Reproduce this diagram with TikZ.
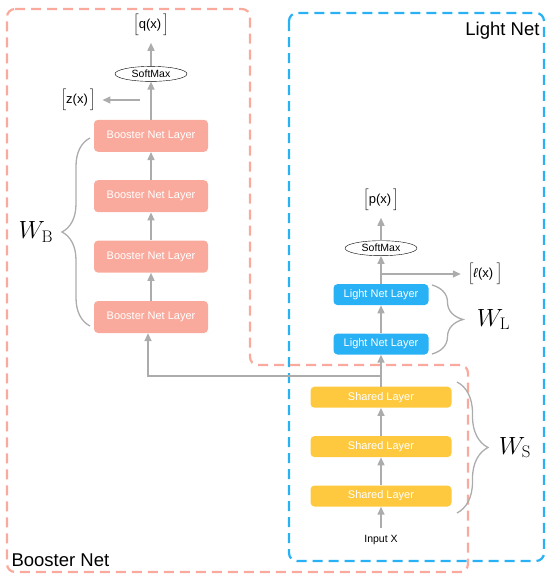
\documentclass[tikz,border=0pt]{standalone}
\usepackage{amsmath}
\usepackage{fontspec}
\setsansfont{Liberation Sans}
\usepackage{tikz}
\usetikzlibrary{positioning, arrows.meta, shapes.geometric, decorations.pathreplacing}
\definecolor{boostpink}{RGB}{250,170,156}
\definecolor{lightblue}{RGB}{41,177,245}
\definecolor{sharedyellow}{RGB}{254,201,62}
\definecolor{flowgray}{RGB}{172,172,172}
\tikzset{x=1pt, y=-1pt, % One unit is one pixel of the reference, y grows downwards
node distance=28pt, % Gap between two stacked layers
layer/.style={ % Common look of all layer boxes
rounded corners=4pt, text=white, inner sep=0pt,
font=\sffamily\fontsize{11}{13}\selectfont},
boostlayer/.style={layer, fill=boostpink, minimum width=114pt, minimum height=32pt},
lightlayer/.style={layer, fill=lightblue, minimum width=95pt, minimum height=21pt},
sharedlayer/.style={layer, fill=sharedyellow, minimum width=141pt, minimum height=21pt},
softmax/.style={ellipse, draw, thin, fill=white, inner sep=0pt,
minimum width=72pt, minimum height=15pt, font=\sffamily\fontsize{10.5}{12}\selectfont},
outvec/.style={inner sep=0pt, outer sep=7pt, font=\sffamily\fontsize{13}{15}\selectfont},
flow/.style={draw=flowgray, line width=1.5pt, -{Triangle[length=8pt,width=7pt]}}, % Gray arrows
wbrace/.style={draw=flowgray, line width=1.3pt, decorate, decoration={brace, amplitude=#1}},
wlabel/.style={font=\fontsize{24}{28}\selectfont},
netbox/.style={dash pattern=on 10pt off 6pt, line width=2.2pt, rounded corners=8pt}}

\begin{document}
\begin{tikzpicture}

    \useasboundingbox (0,0) rectangle (557,584);

    % the two networks
    \draw[netbox, draw=lightblue] (289,13) rectangle (544,561);
    \draw[netbox, draw=boostpink] (7,9) -- (250,9) -- (250,365) -- (468,365) -- (468,572) -- (7,572) -- cycle;
    \node[anchor=base east, font=\sffamily\fontsize{18.5}{22}\selectfont] (lighttitle) at (543,35) {Light Net};
    \node[anchor=base west, font=\sffamily\fontsize{18.5}{22}\selectfont] (boosttitle) at (8,566) {Booster Net};

    % shared part
    \node[font=\sffamily\fontsize{10.5}{12}\selectfont, outer sep=4pt] (in) at (381,540) {Input X};
    \node[sharedlayer] (s3) at (381,496) {Shared Layer};
    \node[sharedlayer, above=of s3] (s2) {Shared Layer};
    \node[sharedlayer, above=of s2] (s1) {Shared Layer};

    % light net
    \node[lightlayer] (l2) at (381,344) {Light Net Layer};
    \node[lightlayer, above=of l2] (l1) {Light Net Layer};
    \node[softmax, above=of l1] (lsm) {SoftMax};
    \node[outvec] (px) at (381,200) {$\Bigl[$p(x)$\,\Bigr]$};
    \node[outvec] (lx) at (485,274) {$\Bigl[$\textit{ℓ}(x)$\;\Bigr]$};

    % booster net
    \node[boostlayer] (b4) at (151,317) {Booster Net Layer};
    \node[boostlayer, above=of b4] (b3) {Booster Net Layer};
    \node[boostlayer, above=of b3] (b2) {Booster Net Layer};
    \node[boostlayer, above=of b2] (b1) {Booster Net Layer};
    \node[softmax, above=38pt of b1] (bsm) {SoftMax};
    \node[outvec] (qx) at (151,25) {$\Bigl[$q(x)$\,\Bigr]$};
    \node[outvec] (zx) at (78,100) {$\Bigl[$z(x)$\,\Bigr]$};

    \coordinate (split) at (381,376);
    \coordinate (lsplit) at (381,274);
    \coordinate (zsplit) at (140,100);

    \draw[flow] (in) -- (s3);
    \draw[flow] (s3) -- (s2);
    \draw[flow] (s2) -- (s1);
    \draw[flow] (s1) -- (l2);
    \draw[flow] (l2) -- (l1);
    \draw[flow] (l1) -- (lsm);
    \draw[flow] (lsm) -- (px);
    \draw[flow] (lsplit) -- (lx);
    \draw[flow] (split) -| ([xshift=-3pt]b4.south);
    \draw[flow] (b4) -- (b3);
    \draw[flow] (b3) -- (b2);
    \draw[flow] (b2) -- (b1);
    \draw[flow] (b1) -- (bsm);
    \draw[flow] (bsm) -- (qx);
    \draw[flow] (zsplit) -- (zx);

    % weights
    \draw[wbrace=28pt] (90,326) -- node[wlabel, left=33pt] (wb) {$W_{\mathrm{B}}$} (90,138);
    \draw[wbrace=31pt] (432,285) -- node[wlabel, right=41pt] (wl) {$W_{\mathrm{L}}$} (432,354);
    \draw[wbrace=31pt] (457,382) -- node[wlabel, right=38pt] (ws) {$W_{\mathrm{S}}$} (457,513);

\end{tikzpicture}
\end{document}
